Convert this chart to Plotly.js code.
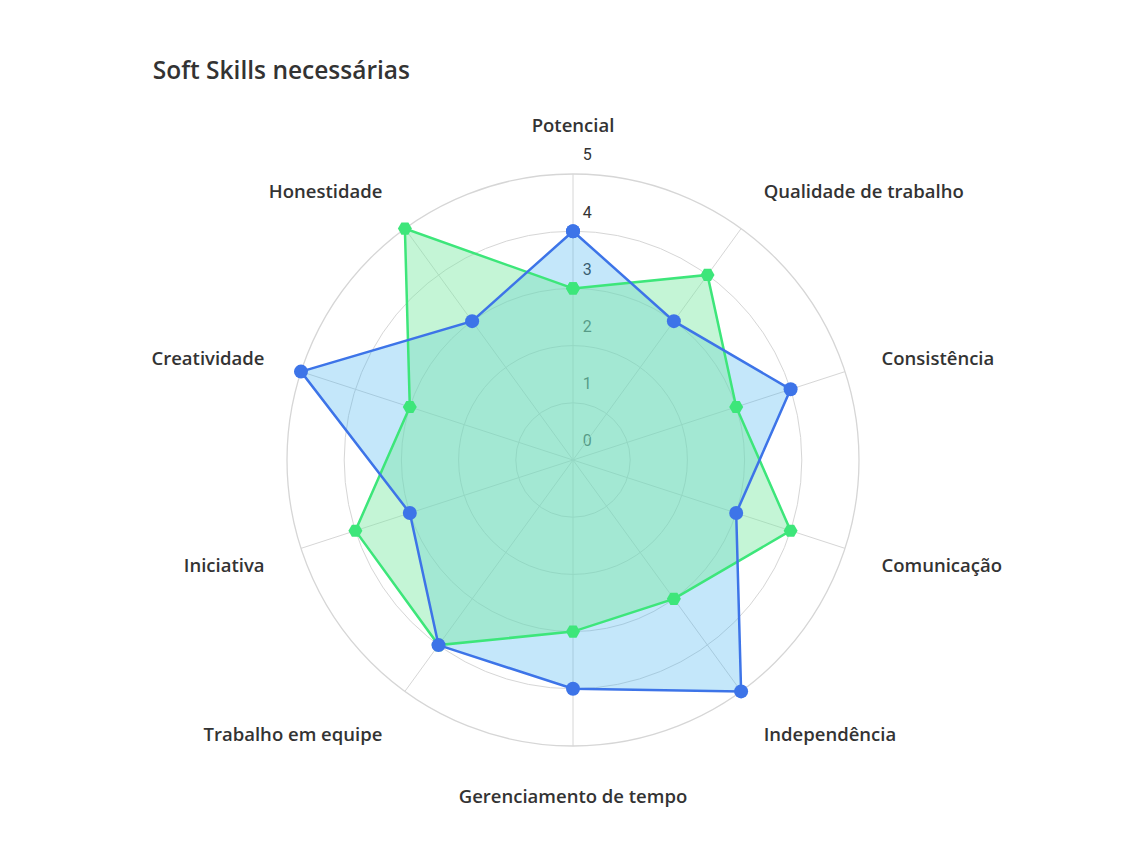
<!DOCTYPE html>
<html>
<head>
<meta charset="utf-8">
<script src="https://cdn.plot.ly/plotly-3.0.1.min.js"></script>
<style>body{margin:0;background:#fff}</style>
</head>
<body>
<div id="chart" style="width:1140px;height:867px"></div>
<script>
// skills, clockwise from the top
var skills = ["Potencial", "Qualidade de trabalho", "Consistência", "Comunicação", "Independência",
  "Gerenciamento de tempo", "Trabalho em equipe", "Iniciativa", "Creatividade", "Honestidade"];
var blueValues = [4, 3, 4, 3, 5, 4, 4, 3, 5, 3];
var greenValues = [3, 4, 3, 4, 3, 3, 4, 4, 3, 5];
var radialTicks = [0, 1, 2, 3, 4, 5];

var blue = "#3d74e8";
var green = "#3de67a";

// close the loops
function closed(a) { return a.concat([a[0]]); }
var theta = closed(skills);

// empty trace so the label layer gets drawn
var labelLayer = {
  type: "scatterpolar", subplot: "polar",
  r: [], theta: [], mode: "markers", hoverinfo: "skip"
};

// fills go first, so lines and markers sit on top of both areas
var blueFill = {
  type: "scatterpolar", subplot: "polar2",
  r: closed(blueValues), theta: theta,
  fill: "toself", fillcolor: "rgba(70,180,240,0.32)",
  mode: "lines", line: {width: 0}, hoverinfo: "skip"
};
var greenFill = {
  type: "scatterpolar", subplot: "polar2",
  r: closed(greenValues), theta: theta,
  fill: "toself", fillcolor: "rgba(125,232,165,0.45)",
  mode: "lines", line: {width: 0}, hoverinfo: "skip"
};
var greenLine = {
  type: "scatterpolar", subplot: "polar2",
  r: closed(greenValues), theta: theta,
  mode: "lines+markers",
  line: {color: green, width: 2.5},
  marker: {color: green, size: 14, symbol: "hexagon2"},
  hoverinfo: "r+theta"
};
var blueLine = {
  type: "scatterpolar", subplot: "polar2",
  r: closed(blueValues), theta: theta,
  mode: "lines+markers",
  line: {color: blue, width: 2.5},
  marker: {color: blue, size: 14, symbol: "circle"},
  hoverinfo: "r+theta"
};

// radial labels sit a little above their circles, under the fills
var labelShift = 0.33;
var pxPerUnit = 286 / 5;
var cx = 573, cy = 460;
var labelR = 5.5 * pxPerUnit;

var grey = "#d6d6d6";

var layout = {
  width: 1140,
  height: 867,
  paper_bgcolor: "#fff",
  showlegend: false,
  margin: {l: 0, r: 0, t: 0, b: 0},
  title: {
    text: "Soft Skills necessárias",
    x: 0.134, xanchor: "left",
    y: 0.919, yanchor: "middle",
    font: {family: "Open Sans", size: 24.5, color: "#333", weight: 600}
  },
  // bottom layer: only the radial tick labels
  polar: {
    domain: {
      x: [(cx - labelR) / 1140, (cx + labelR) / 1140],
      y: [1 - (cy + labelR) / 867, 1 - (cy - labelR) / 867]
    },
    bgcolor: "#fff",
    radialaxis: {
      range: [0, 5.5],
      tickvals: radialTicks.map(function (v) { return v + labelShift; }),
      ticktext: radialTicks.map(String),
      angle: 90,
      tickangle: 90,
      showgrid: false,
      showline: false,
      ticks: "outside",
      ticklen: 6,
      tickcolor: "rgba(0,0,0,0)",
      tickfont: {family: "Roboto", size: 16, color: "#333"}
    },
    angularaxis: {
      rotation: 90, direction: "clockwise",
      showgrid: false, showline: false, showticklabels: false, ticks: ""
    }
  },
  // top layer: grid, data and skill labels
  polar2: {
    domain: {x: [(cx - 286) / 1140, (cx + 286) / 1140], y: [1 - (cy + 286) / 867, 1 - (cy - 286) / 867]},
    bgcolor: "rgba(0,0,0,0)",
    radialaxis: {
      range: [0, 5],
      tickvals: radialTicks,
      angle: 90,
      showticklabels: false,
      showline: false,
      ticks: "",
      gridcolor: grey,
      gridwidth: 1.3,
      layer: "below traces"
    },
    angularaxis: {
      rotation: 90,
      direction: "clockwise",
      gridcolor: grey,
      gridwidth: 1.3,
      linecolor: grey,
      linewidth: 1.3,
      ticks: "outside",
      ticklen: 34,
      tickcolor: "rgba(0,0,0,0)",
      layer: "below traces",
      tickfont: {family: "Open Sans", size: 18.5, color: "#333", weight: 600}
    }
  }
};

Plotly.newPlot("chart", [labelLayer, blueFill, greenFill, greenLine, blueLine], layout, {displayModeBar: false});
</script>
</body>
</html>
